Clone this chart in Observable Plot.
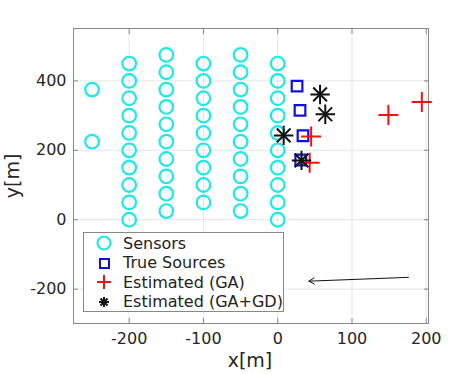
<!DOCTYPE html>
<html><head><meta charset="utf-8">
<script src="https://cdn.jsdelivr.net/npm/d3@7"></script>
<script src="https://cdn.jsdelivr.net/npm/@observablehq/plot@0.6"></script>
<style>
body{margin:0;background:#fff;font-family:"DejaVu Sans",sans-serif;}
#wrap{position:relative;width:474px;height:374px;}
#legend{position:absolute;left:83px;top:232px;width:201px;height:80px;border:1px solid #888;background:#fff;box-sizing:border-box;font-size:16px;color:#222;}
#legend .row{position:absolute;left:0;height:20px;display:flex;align-items:center;}
#legend svg{width:40px;height:20px;}
</style></head><body>
<div id="wrap"></div>
<script>
// Sensor positions
const sensorX = [-250,-250,
  -200,-200,-200,-200,-200,-200,-200,-200,-200,-200,
  -150,-150,-150,-150,-150,-150,-150,-150,-150,-150,
  -100,-100,-100,-100,-100,-100,-100,-100,-100,
  -50,-50,-50,-50,-50,-50,-50,-50,-50,-50,
  0,0,0,0,0,0,0,0,0,0];
const sensorY = [375,225,
  0,50,100,150,200,250,300,350,400,450,
  25,75,125,175,225,275,325,375,425,475,
  50,100,150,200,250,300,350,400,450,
  25,75,125,175,225,275,325,375,425,475,
  0,50,100,150,200,250,300,350,400,450];
// True sources
const trueX = [26, 30, 34, 31];
const trueY = [385, 315, 242, 172];
// Estimated (GA)
const gaX = [45, 43, 149, 194];
const gaY = [240, 164, 302, 339];
// Estimated (GA+GD)
const gdX = [57, 64, 8, 32];
const gdY = [361, 304, 243, 171];
// Arrow annotation
const arrowFrom = [176, -166];
const arrowTo = [42, -177];
const xTicks = [-200, -100, 0, 100, 200];
const yTicks = [-200, 0, 200, 400];
const legendLabels = ["Sensors", "True Sources", "Estimated (GA)", "Estimated (GA+GD)"];

const sensors = sensorX.map((x, i) => ({x, y: sensorY[i]}));
const trues = trueX.map((x, i) => ({x, y: trueY[i]}));
const gas = gaX.map((x, i) => ({x, y: gaY[i]}));
const gds = gdX.map((x, i) => ({x, y: gdY[i]}));
const fmt = d => String(d);
const blank = () => "";

const chart = Plot.plot({
  width: 474, height: 374,
  marginLeft: 73, marginRight: 46, marginTop: 28, marginBottom: 51,
  style: {fontFamily: "DejaVu Sans, sans-serif", fontSize: "16px", color: "#262626", background: "#fff"},
  x: {domain: [-275, 203]},
  y: {domain: [-299, 551]},
  marks: [
    Plot.gridX(xTicks, {stroke: "#000", strokeOpacity: 0.1}),
    Plot.gridY(yTicks, {stroke: "#000", strokeOpacity: 0.1}),
    Plot.frame({stroke: "#888", strokeWidth: 1}),
    Plot.axisX(xTicks, {anchor: "bottom", tickSize: -5, tickPadding: 14, stroke: "#888", fontSize: 16, tickFormat: fmt, label: null}),
    Plot.axisX(xTicks, {anchor: "top", tickSize: -5, tickFormat: blank, stroke: "#888", label: null}),
    Plot.axisY(yTicks, {anchor: "left", tickSize: -5, tickPadding: 12, stroke: "#888", fontSize: 16, tickFormat: fmt, label: null}),
    Plot.axisY(yTicks, {anchor: "right", tickSize: -5, tickFormat: blank, stroke: "#888", label: null}),
    Plot.dot(sensors, {x: "x", y: "y", r: 6.8, stroke: "#1de9e9", strokeWidth: 2.2, symbol: "circle"}),
    Plot.dot(trues, {x: "x", y: "y", r: 6, stroke: "#1010e0", strokeWidth: 2.2, symbol: "square"}),
    Plot.dot(gas, {x: "x", y: "y", r: 6.5, stroke: "#ee1111", strokeWidth: 2, symbol: "plus"}),
    Plot.dot(gds, {x: "x", y: "y", r: 6.3, stroke: "#111", strokeWidth: 2, symbol: "plus"}),
    Plot.dot(gds, {x: "x", y: "y", r: 6.3, stroke: "#111", strokeWidth: 2, symbol: "times"}),
    Plot.arrow([{x1: arrowFrom[0], y1: arrowFrom[1], x2: arrowTo[0], y2: arrowTo[1]}],
      {x1: "x1", y1: "y1", x2: "x2", y2: "y2", stroke: "#111", strokeWidth: 1, headLength: 9, bend: 0})
  ]
});
const wrap = document.getElementById("wrap");
wrap.appendChild(chart);

// Axis labels
const svg = d3.select(chart);
svg.append("text").attr("x", 250).attr("y", 367).attr("text-anchor", "middle")
  .attr("font-size", 19).attr("fill", "#262626").attr("font-family", "DejaVu Sans, sans-serif").text("x[m]");
svg.append("text").attr("transform", "translate(19,176) rotate(-90)").attr("text-anchor", "middle")
  .attr("font-size", 19).attr("fill", "#262626").attr("font-family", "DejaVu Sans, sans-serif").text("y[m]");

// Legend
const leg = document.createElement("div");
leg.id = "legend";
wrap.appendChild(leg);
const icons = [
  '<circle cx="20" cy="10" r="6.5" fill="none" stroke="#1de9e9" stroke-width="2.2"/>',
  '<rect x="16" y="6" width="9" height="9" fill="none" stroke="#1010e0" stroke-width="2"/>',
  '<path d="M13,10H27M20,3V17" stroke="#ee1111" stroke-width="2"/>',
  '<path d="M15,10H25M20,5V15M16.5,6.5L23.5,13.5M23.5,6.5L16.5,13.5" stroke="#111" stroke-width="2"/>'
];
legendLabels.forEach((t, i) => {
  const row = document.createElement("div");
  row.className = "row";
  row.style.top = (0 + i * 19.5) + "px";
  row.innerHTML = `<svg viewBox="0 0 40 20">${icons[i]}</svg><span style="margin-left:-1px">${t}</span>`;
  leg.appendChild(row);
});
</script>
</body></html>
